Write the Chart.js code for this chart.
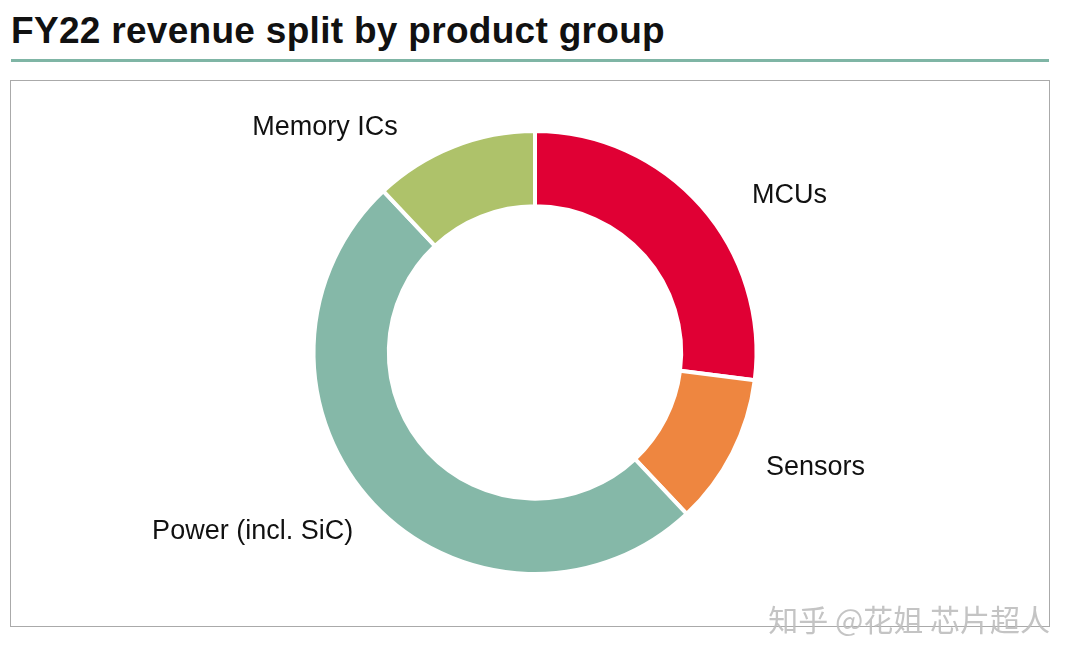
<!DOCTYPE html>
<html><head><meta charset="utf-8">
<script src="https://cdn.jsdelivr.net/npm/chart.js@4"></script>
<style>
body{margin:0;width:1080px;height:660px;background:#fff;font-family:"Liberation Sans",Arial,sans-serif;position:relative;overflow:hidden}
#title{position:absolute;left:11px;top:10px;font-size:37px;font-weight:bold;color:#111;letter-spacing:0.3px}
#rule{position:absolute;left:11px;top:59px;width:1038px;height:3px;background:#7fb5a5}
#frame{position:absolute;left:10px;top:80px;width:1038px;height:545px;border:1px solid #aaa}
#wm{position:absolute;right:30px;top:596px;font-size:30px;color:rgba(190,190,190,0.9);font-family:"Noto Sans CJK SC",sans-serif}
</style></head><body>
<div id="title">FY22 revenue split by product group</div>
<div id="rule"></div>
<div id="frame"><canvas id="c" width="1038" height="545"></canvas></div>
<div id="wm">知乎 @花姐 芯片超人</div>
<script>
const categories=["MCUs","Sensors","Power (incl. SiC)","Memory ICs"];
const values=[27,11,50,12];
const colors=["#e00034","#ee8640","#85b8a8","#aec26a"];
const labelShift=[[31,7],[10,2],[-1,9],[-46,6]];
const labelPlugin={id:"lbl",afterDatasetsDraw(chart){
 const ctx=chart.ctx;ctx.save();ctx.font="27px 'Liberation Sans', Arial";ctx.fillStyle="#111";ctx.textBaseline="middle";
 chart.getDatasetMeta(0).data.forEach((a,i)=>{
  const m=(a.startAngle+a.endAngle)/2,r=a.outerRadius*1.12;
  let x=a.x+Math.cos(m)*r,y=a.y+Math.sin(m)*r;
  const right=Math.cos(m)>=0;ctx.textAlign=right?"left":"right";
  ctx.fillText(categories[i],x+labelShift[i][0],y+labelShift[i][1]);
 });ctx.restore();}};
new Chart(document.getElementById("c"),{type:"doughnut",
 data:{labels:categories,datasets:[{data:values,backgroundColor:colors,borderColor:"#fff",borderWidth:4}]},
 options:{responsive:false,animation:false,cutout:"66%",layout:{padding:{top:48,bottom:50,left:10}},
  plugins:{legend:{display:false},tooltip:{enabled:false}}},plugins:[labelPlugin]});
</script></body></html>
